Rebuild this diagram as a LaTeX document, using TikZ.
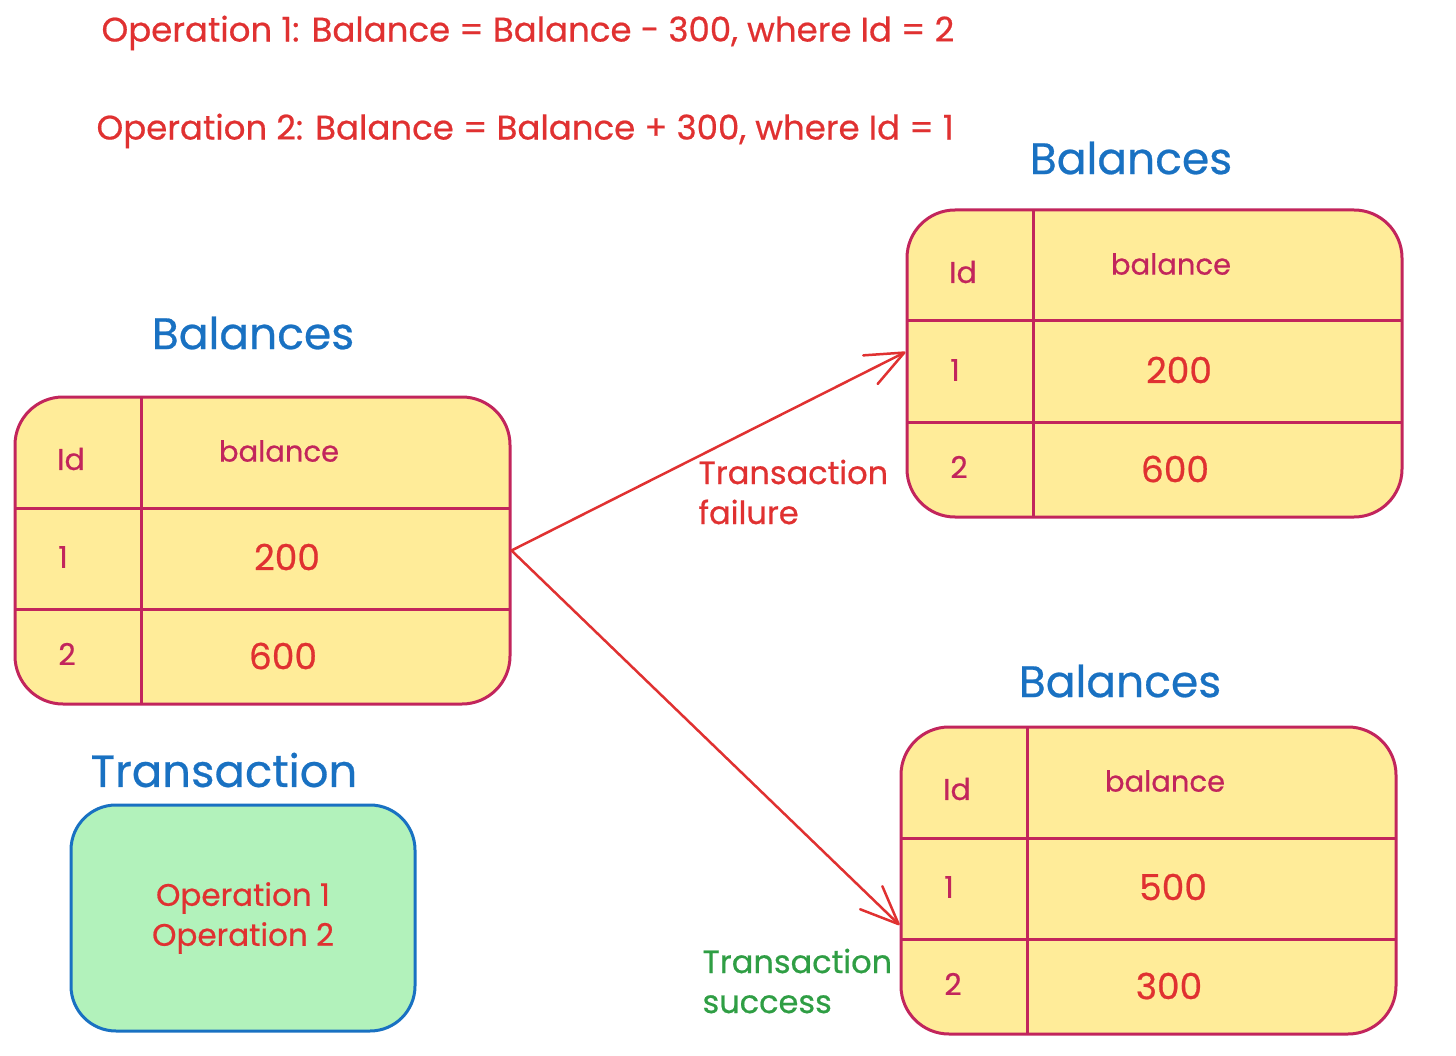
\documentclass[tikz,border=0pt]{standalone}
\usepackage{fontspec}
\setmainfont{Poppins}[FakeBold=0.6]
\usetikzlibrary{arrows.meta,calc}
\definecolor{crim}{HTML}{C2255C}
\definecolor{redc}{HTML}{E03131}
\definecolor{bluec}{HTML}{1971C2}
\definecolor{greenc}{HTML}{2F9E44}
\definecolor{yelfill}{HTML}{FFEC99}
\definecolor{grnfill}{HTML}{B2F2BB}
\tikzset{
 tablebox/.style={draw=crim, fill=yelfill, line width=3pt, rounded corners=48pt, minimum width=495pt, minimum height=307pt, inner sep=0pt},
 gridline/.style={draw=crim, line width=3pt},
 hdr/.style={text=crim, font=\fontsize{29}{32}\selectfont},
 idtxt/.style={text=crim, font=\fontsize{30}{32}\selectfont},
 valtxt/.style={text=redc, font=\fontsize{36}{40}\selectfont},
 ttl/.style={text=bluec, font=\fontsize{44}{52}\selectfont},
 optxt/.style={text=redc, font=\fontsize{34}{38}\selectfont, anchor=west},
 lbl/.style={anchor=west, align=left, font=\fontsize{32}{40}\selectfont},
 txbox/.style={draw=bluec, fill=grnfill, line width=3pt, rounded corners=45pt, minimum width=344pt, minimum height=226pt, inner sep=0pt, align=center, text=redc, font=\fontsize{31}{40}\selectfont},
 conn/.style={draw=redc, line width=2.5pt, line cap=round, -{Straight Barb[length=38pt,width=32pt,round]}},
}
\newcommand{\BalTable}[5]{%
 \node[tablebox] (#1) at (#2+247.5, #3+153.5) {};
 \draw[gridline] (#2+126, #3) -- (#2+126, #3+307);
 \draw[gridline] (#2, #3+111) -- (#2+495, #3+111);
 \draw[gridline] (#2, #3+212) -- (#2+495, #3+212);
 \node[idtxt] (#1id) at (#2+56, #3+62) {Id};
 \node[hdr] (#1hd) at (#2+264, #3+54) {balance};
 \node[idtxt] (#1ra) at (#2+48, #3+160) {1};
 \node[valtxt] (#1va) at (#2+272, #3+160) {#4};
 \node[idtxt] (#1rb) at (#2+52, #3+257) {2};
 \node[valtxt] (#1vb) at (#2+268, #3+259) {#5};
}
\begin{document}
\begin{tikzpicture}[x=1pt,y=-1pt]
\useasboundingbox (0,0) rectangle (1456,1056);
\node[optxt] (op1) at (98,33) {Operation 1: Balance = Balance - 300, where Id = 2};
\node[optxt] (op2) at (93,131) {Operation 2: Balance = Balance + 300, where Id = 1};
\BalTable{ta}{15}{397}{200}{600}
\BalTable{tb}{907}{210}{200}{600}
\BalTable{tc}{901}{727}{500}{300}
\node[ttl] (tta) at (253,333) {Balances};
\node[ttl] (ttb) at (1131,158) {Balances};
\node[ttl] (ttc) at (1120,681) {Balances};
\node[ttl, font=\fontsize{45}{50}\selectfont] (ttx) at (224,770) {Transaction};
\node[txbox] (tx) at (243,918) {Operation 1\\Operation 2};
\coordinate (tbin) at ([yshift=11.5pt]tb.west);
\coordinate (tcin) at ([yshift=-44.5pt]tc.west);
\draw[conn] (ta.east) -- (tbin);
\draw[conn] (ta.east) -- (tcin);
\node[lbl, text=redc] (lfail) at (695,492) {Transaction\\failure};
\node[lbl, text=greenc] (lsucc) at (699,981) {Transaction\\success};
\end{tikzpicture}
\end{document}
